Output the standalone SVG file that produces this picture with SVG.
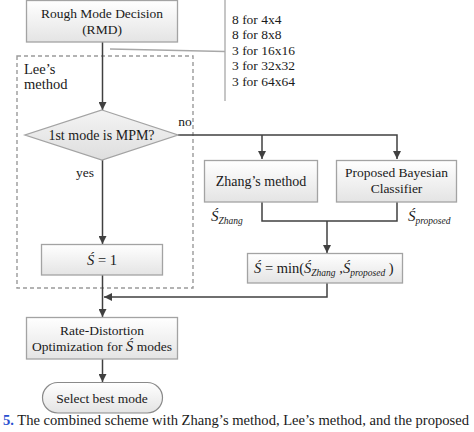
<svg xmlns="http://www.w3.org/2000/svg" width="474" height="432" viewBox="0 0 474 432">
<defs>
<linearGradient id="gBox" x1="0" y1="0" x2="0" y2="1">
<stop offset="0" stop-color="#ffffff"/>
<stop offset="1" stop-color="#e4e4e4"/>
</linearGradient>
<linearGradient id="gDia" x1="0" y1="0" x2="0" y2="1">
<stop offset="0" stop-color="#f4f4f4"/>
<stop offset="1" stop-color="#dedede"/>
</linearGradient>
<marker id="arr" markerUnits="userSpaceOnUse" markerWidth="9" markerHeight="8" refX="8" refY="4" orient="auto">
<path d="M0,0 L8,4 L0,8 z" fill="#404040"/>
</marker>
</defs>
<style>
.box{fill:url(#gBox);stroke:#a3a3a3;stroke-width:1.3}
.t{font-family:"Liberation Serif","Times New Roman",serif;font-size:13.5px;fill:#1a1a1a}
.c{text-anchor:middle}
.m{font-style:italic}
.sub{font-style:italic;font-size:9.5px}
.conn{fill:none;stroke:#404040;stroke-width:1.5}
.br{fill:none;stroke:#a8a8a8;stroke-width:1.3}
</style>
<rect width="474" height="432" fill="#ffffff"/>

<g id="lee-region">
<rect x="17" y="56" width="176" height="232" fill="none" stroke="#9a9a9a" stroke-width="1.4" stroke-dasharray="4,3"/>
<text class="t" x="24" y="74" style="font-size:14.5px">Lee’s</text>
<text class="t" x="24" y="89" style="font-size:14.5px">method</text>
</g>

<g id="connectors">
<path class="conn" d="M102.5,42 V110" marker-end="url(#arr)"/>
<path class="conn" d="M178,135 H397 V159" marker-end="url(#arr)"/>
<path class="conn" d="M262,135 V159" marker-end="url(#arr)"/>
<path class="conn" d="M262,202 V221 H397 V202"/>
<path class="conn" d="M327,221 V253" marker-end="url(#arr)"/>
<path class="conn" d="M327,283 V297 H104" marker-end="url(#arr)"/>
<path class="conn" d="M102.5,160 V244" marker-end="url(#arr)"/>
<path class="conn" d="M102.5,275 V317" marker-end="url(#arr)"/>
<path class="conn" d="M102.5,359 V382" marker-end="url(#arr)"/>
<path class="br" d="M110,49 L225,51.5"/>
<path class="br" d="M225,0 V101"/>
</g>

<g id="rmd">
<rect class="box" x="26.5" y="0.5" width="151" height="41.5"/>
<text class="t c" x="102" y="18">Rough Mode Decision</text>
<text class="t c" x="102" y="34">(RMD)</text>
</g>

<g id="mode-list">
<text class="t" x="232" y="23.5">8 for 4x4</text>
<text class="t" x="232" y="39">8 for  8x8</text>
<text class="t" x="232" y="54.5">3 for 16x16</text>
<text class="t" x="232" y="70">3 for 32x32</text>
<text class="t" x="232" y="85.5">3 for 64x64</text>
</g>

<g id="decision">
<polygon points="102,110 178,135 102,160 25,135" fill="url(#gDia)" stroke="#a3a3a3" stroke-width="1.3"/>
<text class="t c" x="101.5" y="139.5" style="font-size:14px">1st mode is MPM?</text>
<text class="t c" x="185" y="126">no</text>
<text class="t c" x="85" y="177">yes</text>
</g>

<g id="zhang">
<rect class="box" x="204.5" y="160.5" width="113" height="41.5"/>
<text class="t c" x="261" y="186" style="font-size:14px">Zhang’s method</text>
<text class="t" x="211" y="221"><tspan class="m" style="font-size:15px">Ś</tspan><tspan class="sub" dy="3">Zhang</tspan></text>
</g>

<g id="bayes">
<rect class="box" x="336.5" y="160.5" width="120" height="41.5"/>
<text class="t c" x="396.5" y="177">Proposed Bayesian</text>
<text class="t c" x="396.5" y="193">Classifier</text>
<text class="t" x="408" y="221"><tspan class="m" style="font-size:15px">Ś</tspan><tspan class="sub" dy="3">proposed</tspan></text>
</g>

<g id="min">
<rect class="box" x="247.5" y="253.5" width="155" height="29.5"/>
<text class="t" x="254" y="273" style="font-size:14.5px"><tspan class="m">Ś</tspan> = min(<tspan class="m">Ś</tspan><tspan class="sub" dy="3">Zhang</tspan><tspan dy="-3"> ,</tspan><tspan class="m">Ś</tspan><tspan class="sub" dy="3">proposed</tspan><tspan dy="-3">  )</tspan></text>
</g>

<g id="s-one">
<rect class="box" x="41.5" y="244.5" width="121" height="30.5"/>
<text class="t c" x="102" y="264.5" style="font-size:14.5px"><tspan class="m">Ś</tspan> = 1</text>
</g>

<g id="rdo">
<rect class="box" x="26.5" y="317.5" width="151" height="41.5"/>
<text class="t c" x="102" y="335">Rate-Distortion</text>
<text class="t c" x="102" y="351">Optimization for <tspan class="m" style="font-size:15px">Ś</tspan> modes</text>
</g>

<g id="select">
<rect x="42.5" y="382.5" width="120" height="30.5" rx="15.25" ry="15.25" fill="url(#gBox)" stroke="#8a8a8a" stroke-width="1.2"/>
<text class="t c" x="102" y="402.5">Select best mode</text>
</g>

<g id="caption">
<text x="3" y="425" textLength="466" lengthAdjust="spacingAndGlyphs" style="font-family:'Liberation Serif','Times New Roman',serif;font-size:14.5px;fill:#1a1a1a"><tspan style="fill:#2a4fd0;font-weight:bold">5.</tspan> The combined scheme with Zhang’s method, Lee’s method, and the proposed</text>
</g>
</svg>
